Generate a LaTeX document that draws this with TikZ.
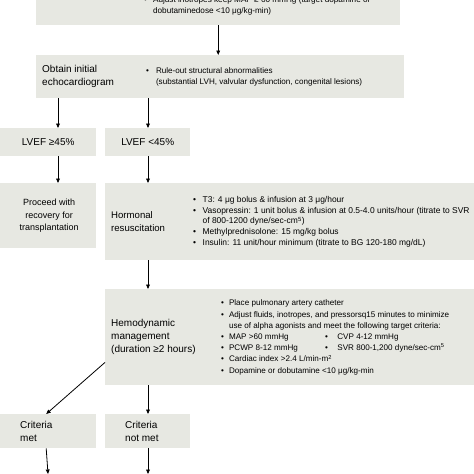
\documentclass[tikz,border=0pt]{standalone}
\usepackage{fontspec}
\setmainfont{Liberation Sans}
\usetikzlibrary{arrows.meta,positioning,calc}
\definecolor{boxgray}{RGB}{231,232,226}
\tikzset{
  box/.style={
    rectangle,
    anchor=north west,
    inner sep=0pt,
    fill=boxgray
  },
  heading/.style={
    font=\fontsize{10}{12.8}\selectfont,
    align=left,
    inner sep=0pt
  },
  centerhead/.style={
    font=\fontsize{10}{12.8}\selectfont,
    align=center,
    inner sep=0pt
  },
  notes/.style={
    font=\fontsize{8.1}{11}\selectfont,
    anchor=west,
    inner sep=0pt
  },
  flow/.style={-{Triangle[length=4.5pt,width=3.8pt]}, line width=0.8pt}
}

\begin{document}
\begin{tikzpicture}[x=1pt,y=-1pt]
  \useasboundingbox (0,0) rectangle (474,474);

  % boxes
  \node[box, minimum width=364pt, minimum height=40pt] (dosing) at (36,-15) {};
  \node[box, minimum width=368pt, minimum height=43pt] (echo) at (36,55) {};
  \node[box, minimum width=100pt, minimum height=28pt] (lvefhi) at (-4,128) {};
  \node[box, minimum width=85pt, minimum height=28pt] (lveflo) at (105,128) {};
  \node[box, minimum width=100pt, minimum height=65pt] (proceed) at (-4,183) {};
  \node[box, minimum width=372pt, minimum height=77pt] (hormonal) at (105,183) {};
  \node[box, minimum width=372pt, minimum height=96pt] (hemo) at (105,289) {};
  \node[box, minimum width=100pt, minimum height=34pt] (met) at (-4,414) {};
  \node[box, minimum width=85pt, minimum height=34pt] (notmet) at (105,414) {};

  % texts
  \node[notes, font=\fontsize{8.2}{11}\selectfont] (dosingnotes) at (144,5.5) {%
    \begin{tabular}{@{}l@{\hspace{6pt}}l@{}}
      \textbullet & Adjust inotropes keep MAP ≥ 60 mmHg (target dopamine or\\
                  & dobutaminedose <10 μg/kg-min)
    \end{tabular}};

  \node[heading, right=6pt of echo.west] (echotitle) {Obtain initial\\echocardiogram};
  \node[notes] (echonotes) at (echo.center -| 146,0) {%
    \begin{tabular}{@{}l@{\hspace{7pt}}l@{}}
      \textbullet & Rule-out structural abnormalities\\
                  & (substantial LVH, valvular dysfunction, congenital lesions)
    \end{tabular}};

  \node[centerhead] (lvefhitext) at ($(lvefhi.center)+(2,0)$) {LVEF ≥45\%};
  \node[centerhead] (lveflotext) at (lveflo.center) {LVEF <45\%};

  \node[centerhead, font=\fontsize{9}{12.8}\selectfont] (proceedtext) at ($(proceed.center)+(3,0)$) {Proceed with\\recovery for\\transplantation};

  \node[heading, font=\fontsize{9.6}{12.8}\selectfont, right=6pt of hormonal.west] (hormonaltitle) {Hormonal\\resuscitation};
  \node[notes, font=\fontsize{8.45}{10.8}\selectfont] (hormonalnotes) at (hormonal.center -| 193,0) {%
    \begin{tabular}{@{}l@{\hspace{6.5pt}}l@{}}
      \textbullet & T3: 4 μg bolus \& infusion at 3 μg/hour\\
      \textbullet & Vasopressin: 1 unit bolus \& infusion at 0.5-4.0 units/hour (titrate to SVR\\
                  & of 800-1200 dyne/sec-cm\textsuperscript{5})\\
      \textbullet & Methylprednisolone: 15 mg/kg bolus\\
      \textbullet & Insulin: 11 unit/hour minimum (titrate to BG 120-180 mg/dL)
    \end{tabular}};

  \node[heading, right=6pt of hemo.west] (hemotitle) {Hemodynamic\\management\\(duration ≥2 hours)};
  \node[notes, font=\fontsize{8.1}{11.2}\selectfont] (hemonotes) at (hemo.center -| 221,0) {%
    \begin{tabular}{@{}l@{\hspace{5pt}}p{96pt}@{}l@{\hspace{9.5pt}}l@{}}
      \textbullet & \multicolumn{3}{@{}l@{}}{Place pulmonary artery catheter}\\
      \textbullet & \multicolumn{3}{@{}l@{}}{Adjust fluids, inotropes, and pressorsq15 minutes to minimize}\\
                  & \multicolumn{3}{@{}l@{}}{use of alpha agonists and meet the following target criteria:}\\
      \textbullet & MAP >60 mmHg & \textbullet & CVP 4-12 mmHg\\
      \textbullet & PCWP 8-12 mmHg & \textbullet & SVR 800-1,200 dyne/sec-cm\textsuperscript{5}\\
      \textbullet & \multicolumn{3}{@{}l@{}}{Cardiac index >2.4 L/min-m\textsuperscript{2}}\\
      \textbullet & \multicolumn{3}{@{}l@{}}{Dopamine or dobutamine <10 μg/kg-min}
    \end{tabular}};

  \node[heading, right=24pt of met.west] (mettext) {Criteria\\met};
  \node[heading, right=20pt of notmet.west] (notmettext) {Criteria\\not met};

  % connectors
  \coordinate (lefttrack) at (58,0);
  \coordinate (midtrack) at (148,0);
  \coordinate (metend) at (48,474);
  \coordinate (notmetend) at (148,474);

  \draw[flow] (dosing.south) -- (echo.north -| dosing.south);
  \draw[flow] (echo.south -| lefttrack) -- (lvefhi.north -| lefttrack);
  \draw[flow] (echo.south -| midtrack) -- (lveflo.north -| midtrack);
  \draw[flow] (lvefhi.south -| lefttrack) -- (proceed.north -| lefttrack);
  \draw[flow] (lveflo.south -| midtrack) -- (hormonal.north -| midtrack);
  \draw[flow] (hormonal.south -| midtrack) -- (hemo.north -| midtrack);
  \draw[flow] ([yshift=23pt]hemo.south west) -- (met.north);
  \draw[flow] (hemo.south -| midtrack) -- (notmet.north -| midtrack);
  \draw[flow] (met.south) -- (metend);
  \draw[flow] (notmet.south -| midtrack) -- (notmetend);
\end{tikzpicture}
\end{document}
